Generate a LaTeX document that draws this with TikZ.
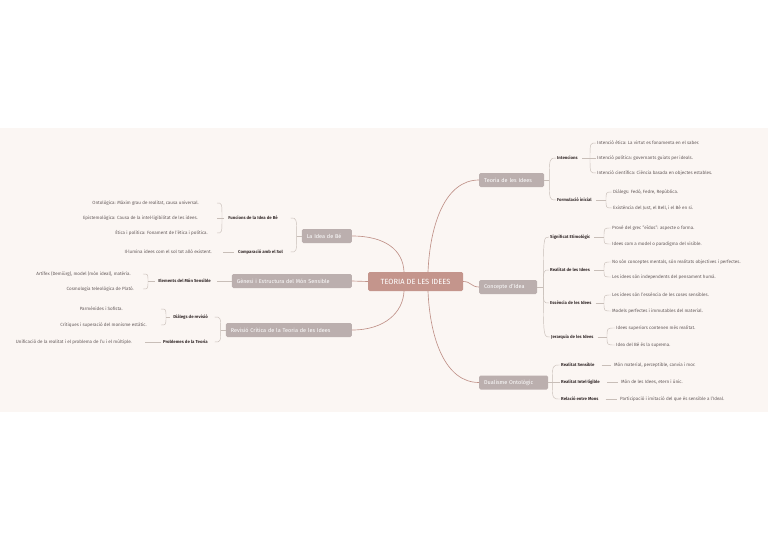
\documentclass[tikz,border=0pt]{standalone}
\usepackage{fontspec}
\setmainfont{Fira Sans}
\usetikzlibrary{calc}
\definecolor{bgband}{RGB}{251,246,243}
\definecolor{rootfill}{RGB}{196,149,140}
\definecolor{mainfill}{RGB}{187,175,174}
\definecolor{mainline}{RGB}{192,146,137}
\definecolor{subline}{RGB}{200,190,184}
\definecolor{subtext}{RGB}{55,45,45}
\definecolor{leaftext}{RGB}{100,90,90}
\begin{document}
\begin{tikzpicture}[x=1pt,y=-1pt,
 rootbox/.style={fill=rootfill, text=white, rounded corners=1.5pt, minimum width=95pt, minimum height=19pt, inner sep=0pt, font=\fontsize{7.5}{8.5}\selectfont},
 mainbox/.style={fill=mainfill, text=white, rounded corners=1.5pt, minimum height=14pt, inner xsep=5pt, inner ysep=0pt, align=left, font=\fontsize{5.5}{6.5}\selectfont},
 subnode/.style={text=subtext, inner xsep=1pt, inner ysep=1pt, font=\fontsize{4.3}{5}\selectfont\bfseries},
 leafnode/.style={text=leaftext, inner xsep=1pt, inner ysep=1pt, font=\fontsize{4.55}{5.2}\selectfont},
 mainconn/.style={draw=mainline, line width=0.65pt},
 subconn/.style={draw=subline, line width=0.45pt},
]
\useasboundingbox (0,0) rectangle (768,543);
\fill[white] (0,0) rectangle (768,543);
\fill[bgband] (0,128) rectangle (768,412);

% root and main topics
\node[rootbox] (root) at (415.5,281.5) {TEORIA DE LES IDEES};
\node[mainbox, text width=55pt, anchor=west] (teo) at (479,180) {\mbox{Teoria de les Idees}};
\node[mainbox, text width=48pt, anchor=west] (con) at (479,287) {\mbox{Concepte d'Idea}};
\node[mainbox, text width=59pt, anchor=west] (dua) at (479,382.5) {\mbox{Dualisme Ontològic}};
\node[mainbox, text width=40pt, anchor=east] (ide) at (352,236) {\mbox{La Idea de Bé}};
\node[mainbox, text width=110pt, anchor=east] (gen) at (352,281) {\mbox{Gènesi i Estructura del Món Sensible}};
\node[mainbox, text width=116pt, anchor=east] (rev) at (352,330) {\mbox{Revisió Crítica de la Teoria de les Idees}};

\draw[mainconn] ($(root.north)+(12.5,0)$) .. controls +(2,-47) and +(-34,0) .. (teo.west);
\draw[mainconn] (root.east) .. controls +(8,0) and +(-8,0) .. (con.west);
\draw[mainconn] ($(root.south)+(12.5,0)$) .. controls +(2,47) and +(-34,0) .. (dua.west);
\draw[mainconn] ($(root.north)+(-11.5,0)$) .. controls +(-1,-22) and +(33,0) .. (ide.east);
\draw[mainconn] (root.west) -- (gen.east);
\draw[mainconn] ($(root.south)+(-11.5,0)$) .. controls +(-1,21) and +(33,0) .. (rev.east);

% ---------- right: Teoria de les Idees
\node[subnode, anchor=west] (int) at (556,158) {Intencions};
\node[subnode, anchor=west] (fo) at (556,200) {Formulació inicial};
\coordinate (jT) at ($(teo.east)+(5,0)$);
\draw[subconn] (teo.east) -- (jT);
\draw[subconn] (jT) .. controls (jT |- int.west) .. (int.west);
\draw[subconn] (jT) .. controls (jT |- fo.west) .. (fo.west);

\node[leafnode, anchor=west] (i1) at (596,143) {Intenció ètica: La virtut es fonamenta en el saber.};
\node[leafnode, anchor=west] (i2) at (596,158) {Intenció política: governants guiats per ideals.};
\node[leafnode, anchor=west] (i3) at (596,173) {Intenció científica: Ciència basada en objectes estables.};
\coordinate (jI) at (590,158);
\draw[subconn, shorten <=3pt] (int.east) -- (jI);
\draw[subconn] (jI) .. controls (jI |- i1.west) .. (i1.west);
\draw[subconn] (jI) -- (i2.west);
\draw[subconn] (jI) .. controls (jI |- i3.west) .. (i3.west);

\node[leafnode, anchor=west] (f1) at (612,192) {Diàlegs: Fedó, Fedre, República.};
\node[leafnode, anchor=west] (f2) at (612,208) {Existència del Just, el Bell, i el Bé en si.};
\coordinate (jF) at (606,200);
\draw[subconn, shorten <=3pt] (fo.east) -- (jF);
\draw[subconn] (jF) .. controls (jF |- f1.west) .. (f1.west);
\draw[subconn] (jF) .. controls (jF |- f2.west) .. (f2.west);

% ---------- right: Concepte d'Idea
\node[subnode, anchor=west] (sig) at (549,237) {Significat Etimològic};
\node[subnode, anchor=west] (rea) at (549,270) {Realitat de les Idees};
\node[subnode, anchor=west] (ess) at (549,303) {Essència de les Idees};
\node[subnode, anchor=west] (jer) at (550,337) {Jerarquia de les Idees};
\coordinate (jC) at ($(con.east)+(6,0)$);
\draw[subconn] (con.east) -- (jC);
\draw[subconn] (jC) .. controls (jC |- sig.west) .. (sig.west);
\draw[subconn] (jC) .. controls (jC |- rea.west) .. (rea.west);
\draw[subconn] (jC) .. controls (jC |- ess.west) .. (ess.west);
\draw[subconn] (jC) .. controls (jC |- jer.west) .. (jer.west);

\node[leafnode, anchor=west] (s1) at (611,228) {Prové del grec "eîdos": aspecte o forma.};
\node[leafnode, anchor=west] (s2) at (611,244) {Idees com a model o paradigma del visible.};
\coordinate (jS) at (604,237);
\draw[subconn, shorten <=3pt] (sig.east) -- (jS);
\draw[subconn] (jS) .. controls (jS |- s1.west) .. (s1.west);
\draw[subconn] (jS) .. controls (jS |- s2.west) .. (s2.west);

\node[leafnode, anchor=west] (r1) at (611,262) {No són conceptes mentals, són realitats objectives i perfectes.};
\node[leafnode, anchor=west] (r2) at (611,277) {Les idees són independents del pensament humà.};
\coordinate (jR) at (604,270);
\draw[subconn, shorten <=3pt] (rea.east) -- (jR);
\draw[subconn] (jR) .. controls (jR |- r1.west) .. (r1.west);
\draw[subconn] (jR) .. controls (jR |- r2.west) .. (r2.west);

\node[leafnode, anchor=west] (e1) at (611,295) {Les idees són l'essència de les coses sensibles.};
\node[leafnode, anchor=west] (e2) at (611,311) {Models perfectes i immutables del material.};
\coordinate (jE) at (604,303);
\draw[subconn, shorten <=3pt] (ess.east) -- (jE);
\draw[subconn] (jE) .. controls (jE |- e1.west) .. (e1.west);
\draw[subconn] (jE) .. controls (jE |- e2.west) .. (e2.west);

\node[leafnode, anchor=west] (h1) at (615,328) {Idees superiors contenen més realitat.};
\node[leafnode, anchor=west] (h2) at (615,345) {Idea del Bé és la suprema.};
\coordinate (jH) at (607,337);
\draw[subconn, shorten <=3pt] (jer.east) -- (jH);
\draw[subconn] (jH) .. controls (jH |- h1.west) .. (h1.west);
\draw[subconn] (jH) .. controls (jH |- h2.west) .. (h2.west);

% ---------- right: Dualisme Ontològic
\node[subnode, anchor=west] (rs) at (560,365) {Realitat Sensible};
\node[subnode, anchor=west] (ri) at (560,382.5) {Realitat Intel·ligible};
\node[subnode, anchor=west] (rm) at (560,399) {Relació entre Mons};
\coordinate (jD) at ($(dua.east)+(4,0)$);
\draw[subconn] (dua.east) -- (jD);
\draw[subconn] (jD) .. controls (jD |- rs.west) .. (rs.west);
\draw[subconn] (jD) -- (ri.west);
\draw[subconn] (jD) .. controls (jD |- rm.west) .. (rm.west);

\node[leafnode, anchor=west] (d1) at (613,365) {Món material, perceptible, canvia i mor.};
\node[leafnode, anchor=west] (d2) at (620,382.5) {Món de les Idees, etern i únic.};
\node[leafnode, anchor=west] (d3) at (619,399) {Participació i imitació del que és sensible a l'Ideal.};
\draw[subconn, shorten <=6pt, shorten >=2pt] (rs.east) -- (d1.west);
\draw[subconn, shorten <=6pt, shorten >=2pt] (ri.east) -- (d2.west);
\draw[subconn, shorten <=6pt, shorten >=2pt] (rm.east) -- (d3.west);

% ---------- left: La Idea de Bé
\node[subnode, anchor=east] (fun) at (279,218) {Funcions de la Idea de Bé};
\node[subnode, anchor=east] (cmp) at (284,252) {Comparació amb el Sol};
\coordinate (jB) at ($(ide.west)+(-5,0)$);
\coordinate (eB) at ($(jB)+(-6,0)$);
\draw[subconn] (ide.west) -- (jB);
\draw[subconn] (jB) .. controls (jB |- fun.east) .. (eB |- fun.east);
\draw[subconn] (jB) .. controls (jB |- cmp.east) .. (eB |- cmp.east);

\node[leafnode, anchor=east] (o1) at (200,203) {Ontològica: Màxim grau de realitat, causa universal.};
\node[leafnode, anchor=east] (o2) at (199,218) {Epistemològica: Causa de la intel·ligibilitat de les idees.};
\node[leafnode, anchor=east] (o3) at (209,233) {Ètica i política: Fonament de l'ètica i política.};
\coordinate (jFu) at (222,218);
\coordinate (eFu) at (217,218);
\draw[subconn, shorten <=3pt] (fun.west) -- (eFu |- o2.east);
\draw[subconn] (jFu) .. controls (jFu |- o1.east) .. (eFu |- o1.east);
\draw[subconn] (jFu) .. controls (jFu |- o3.east) .. (eFu |- o3.east);

\node[leafnode, anchor=east] (c1) at (213,252) {Il·lumina idees com el sol tot allò existent.};
\draw[subconn, shorten <=3pt, shorten >=10pt] (cmp.west) -- (c1.east);

% ---------- left: Gènesi i Estructura
\node[subnode, anchor=east] (ele) at (212,281) {Elements del Món Sensible};
\draw[subconn, shorten >=5pt] (gen.west) -- (ele.east);
\node[leafnode, anchor=east] (a1) at (132,274) {Artífex (Demiürg), model (món ideal), matèria.};
\node[leafnode, anchor=east] (a2) at (135,289) {Cosmologia teleològica de Plató.};
\coordinate (jEl) at (148,281);
\coordinate (eEl) at (143,281);
\draw[subconn, shorten <=2pt] (ele.west) -- (jEl);
\draw[subconn] (jEl) .. controls (jEl |- a1.east) .. (eEl |- a1.east);
\draw[subconn] (jEl) .. controls (jEl |- a2.east) .. (eEl |- a2.east);

% ---------- left: Revisió Crítica
\node[subnode, anchor=east] (dia) at (209,317) {Diàlegs de revisió};
\node[subnode, anchor=east] (pro) at (209,342) {Problemes de la Teoria};
\coordinate (jRv) at ($(rev.west)+(-5,0)$);
\coordinate (eRv) at ($(jRv)+(-6,0)$);
\draw[subconn] (rev.west) -- (jRv);
\draw[subconn] (jRv) .. controls (jRv |- dia.east) .. (eRv |- dia.east);
\draw[subconn] (jRv) .. controls (jRv |- pro.east) .. (eRv |- pro.east);

\node[leafnode, anchor=east] (p1) at (124,309) {Parmènides i Sofista.};
\node[leafnode, anchor=east] (p2) at (148,325) {Crítiques i superació del monisme estàtic.};
\coordinate (jDi) at (166,317);
\coordinate (eDi) at (161,317);
\draw[subconn, shorten <=2pt] (dia.west) -- (jDi);
\draw[subconn] (jDi) .. controls (jDi |- p1.east) .. (eDi |- p1.east);
\draw[subconn] (jDi) .. controls (jDi |- p2.east) .. (eDi |- p2.east);

\node[leafnode, anchor=east] (u1) at (133,342) {Unificació de la realitat i el problema de l'u i el múltiple.};
\draw[subconn, shorten <=1pt, shorten >=12pt] (pro.west) -- (u1.east);
\end{tikzpicture}
\end{document}
